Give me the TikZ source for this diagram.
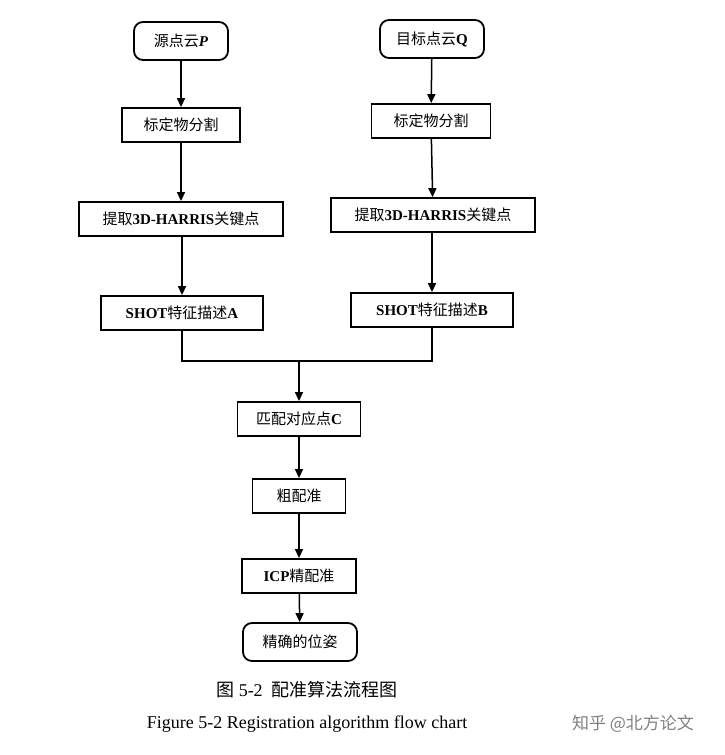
\documentclass[tikz,border=0pt]{standalone}
\usepackage{fontspec}
\setmainfont{Liberation Serif}
\newfontfamily\cjk{Noto Sans CJK SC}
\usetikzlibrary{arrows.meta}
\begin{document}
\begin{tikzpicture}[x=1pt,y=1pt,
  box/.style={draw,line width=1.8pt,minimum height=34pt,inner sep=0pt,font=\fontsize{15}{17}\selectfont},
  rbox/.style={box,rounded corners=9pt,minimum height=38pt},
  arr/.style={line width=1.5pt,-{Triangle[length=9pt,width=8pt]}},
  ln/.style={line width=1.5pt}]
\useasboundingbox (0,0) rectangle (724,755);
\node[rbox,minimum width=94pt] (p) at (181,714) {{\cjk 源点云}\textbf{\textit{P}}};
\node[rbox,minimum width=104pt] (q) at (432,716) {{\cjk 目标点云}\textbf{Q}};
\node[box,minimum width=118pt] (s1) at (181,630) {\cjk 标定物分割};
\node[box,minimum width=119pt] (s2) at (431,634) {\cjk 标定物分割};
\node[box,minimum width=204pt] (h1) at (181,536) {{\cjk 提取}\textbf{3D-HARRIS}{\cjk 关键点}};
\node[box,minimum width=204pt] (h2) at (433,540) {{\cjk 提取}\textbf{3D-HARRIS}{\cjk 关键点}};
\node[box,minimum width=162pt] (a) at (182,442) {\textbf{SHOT}{\cjk 特征描述}\textbf{A}};
\node[box,minimum width=162pt] (b) at (432,445) {\textbf{SHOT}{\cjk 特征描述}\textbf{B}};
\node[box,minimum width=123pt] (c) at (299,336) {{\cjk 匹配对应点}\textbf{C}};
\node[box,minimum width=93pt] (d) at (299,259) {\cjk 粗配准};
\node[box,minimum width=114pt] (e) at (299,179) {\textbf{ICP}{\cjk 精配准}};
\node[rbox,minimum width=114pt] (f) at (300,113) {\cjk 精确的位姿};
\coordinate (m) at (299,394);
\draw[arr] (p) -- (s1);
\draw[arr] (s1) -- (h1);
\draw[arr] (h1.south -| a) -- (a);
\draw[arr] (q) -- (s2);
\draw[arr] (s2) -- (h2);
\draw[arr] (h2.south -| b) -- (b);
\draw[ln] (a.south) |- (m) -| (b.south);
\draw[arr] (m) -- (c);
\draw[arr] (c) -- (d);
\draw[arr] (d) -- (e);
\draw[arr] (e) -- (f);
\node[font=\fontsize{18}{20}\selectfont] (cap1) at (307,65) {{\cjk 图} 5-2\ \ {\cjk 配准算法流程图}};
\node[font=\fontsize{18}{20}\selectfont] (cap2) at (307,31) {Figure 5-2 Registration algorithm flow chart};
\node[font=\fontsize{17}{19}\selectfont,text=gray] (wm) at (633,31) {\cjk 知乎 @北方论文};
\end{tikzpicture}
\end{document}
